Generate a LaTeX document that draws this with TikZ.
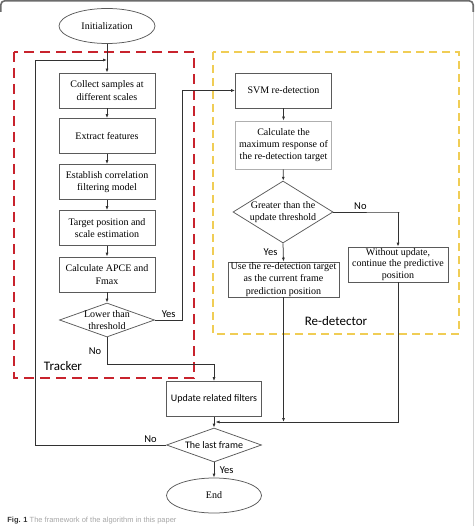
\documentclass[tikz,border=0pt]{standalone}
\usepackage{fontspec}
\setmainfont{Liberation Serif}
\newfontfamily\calfont{Carlito}
\newfontfamily\capfont{Liberation Sans}
\usepackage{xcolor}
\usetikzlibrary{shapes.geometric,arrows.meta}

\definecolor{linegray}{RGB}{50,50,50}
\definecolor{boxgray}{RGB}{90,90,90}
\definecolor{lightbox}{RGB}{175,175,175}
\definecolor{trackred}{RGB}{200,35,45}
\definecolor{detyellow}{RGB}{240,205,85}

\tikzset{
	blk/.style={draw=boxgray,rectangle,minimum width=96pt,minimum height=35pt,inner sep=0pt,align=center,font=\fontsize{10}{12.3}\selectfont},
	ell/.style={draw=boxgray,ellipse,minimum width=96pt,minimum height=35pt,inner sep=0pt,font=\fontsize{10}{12}\selectfont},
	dia/.style={draw=boxgray,diamond,inner sep=0pt},
	dtext/.style={align=center,font=\fontsize{10}{12.3}\selectfont},
	lbl/.style={font=\calfont\fontsize{10.5}{12}\selectfont,inner sep=1.5pt},
	zone/.style={font=\calfont\fontsize{13}{15}\selectfont},
	>={Latex[length=4pt,width=3pt]}
}

\begin{document}
\begin{tikzpicture}[x=1pt,y=-1pt,line width=0.75pt]
	\useasboundingbox (0,0) rectangle (474,526);
	\draw[gray!85!black,line width=1.6pt,rounded corners=4pt] (0.8,12) -- (0.8,0.8) -- (473.2,0.8) -- (473.2,12);
	\draw[gray!35,line width=0.6pt] (473.4,12) -- (473.4,526);
	% dashed zones
	\draw[trackred,line width=1.5pt,dash pattern=on 10pt off 6pt] (14,52) rectangle (194,378);
	\draw[detyellow,line width=1.2pt,dash pattern=on 8pt off 5pt] (213,52) rectangle (459,334);
	\node[zone] (tracker) at (63,366) {Tracker};
	\node[zone] (redet) at (336,321) {Re-detector};
	% tracker column
	\node[ell] (init) at (107,26) {Initialization};
	\foreach \name/\y/\txt in {collect/90.5/{Collect samples at\\different scales},
		extract/136/{Extract features},
		model/182/{Establish correlation\\filtering model},
		target/228/{Target position and\\scale estimation},
		apce/274.5/{Calculate APCE and\\Fmax}}{
		\node[blk] (\name) at (107,\y) {\txt};
	}
	\node[dia,minimum width=95pt,minimum height=34pt] (lower) at (107,320) {};
	\node[dtext] (lowertxt) at (lower.center) {Lower than\\threshold};
	% re-detector column
	\node[blk] (svm) at (283.5,90.5) {SVM re-detection};
	\node[blk,draw=lightbox,minimum height=48pt] (maxresp) at (283.5,145) {Calculate the\\maximum response of\\the re-detection target};
	\node[dia,minimum width=100pt,minimum height=62pt] (greater) at (283,212) {};
	\node[dtext] (greatertxt) at (greater.center) {Greater than the\\update threshold};
	\node[blk,minimum width=111pt] (use) at (283.5,279.5) {Use the re-detection target\\as the current frame\\prediction position};
	\node[blk,minimum width=100pt,font=\fontsize{10}{11.6}\selectfont] (without) at (398,264.5) {Without update,\\continue the predictive\\position};
	% common part
	\node[blk,minimum width=95pt,font=\calfont\fontsize{10}{12}\selectfont] (update) at (214,399) {Update related filters};
	\node[dia,minimum width=95pt,minimum height=34pt] (last) at (214,445) {};
	\node[font=\calfont\fontsize{10}{12}\selectfont] (lasttxt) at (last.center) {The last frame};
	\node[ell,minimum width=95pt] (end) at (214,495.5) {End};
	\coordinate (loopin) at (107,60);
	\coordinate (merge) at (214,422);
	% connectors
	\begin{scope}[draw=linegray]
		\foreach \a/\b in {init/collect,collect/extract,extract/model,model/target,target/apce,apce/lower,svm/maxresp,maxresp/greater,update/last}{
			\draw[->] (\a) -- (\b);
		}
		\draw[->] (lower.east) -- ++(27.5,0) node[lbl,midway,above=1pt]{Yes} |- (svm.west);
		\draw[->] (lower.south) -- ++(0,27) node[lbl,midway,left=4pt]{No} -| (update.north);
		\draw[->] (greater.east) -- ++(66,0) node[lbl,midway,above=1pt,xshift=-6pt]{No} -| (without.north);
		\draw[->] (greater.south) -- (use.north) node[lbl,midway,left=4pt]{Yes};
		\draw[->] (use.south) -- (use.south |- merge);
		\draw[->] (without.south) |- ([xshift=1.5pt]merge);
		\draw[->] (last.west) -- ++(-131,0) node[lbl,pos=0.12,above=1pt]{No} |- (loopin);
		\draw[->] (last.south) -- (end.north) node[lbl,midway,right=4pt]{Yes};
	\end{scope}
	% caption
	\node[anchor=north west,font=\capfont\fontsize{7.5}{9}\selectfont,text=gray!70,inner sep=0pt] (caption) at (7,517) {\textcolor{black!80}{\bfseries Fig. 1} The framework of the algorithm in this paper};
\end{tikzpicture}
\end{document}
